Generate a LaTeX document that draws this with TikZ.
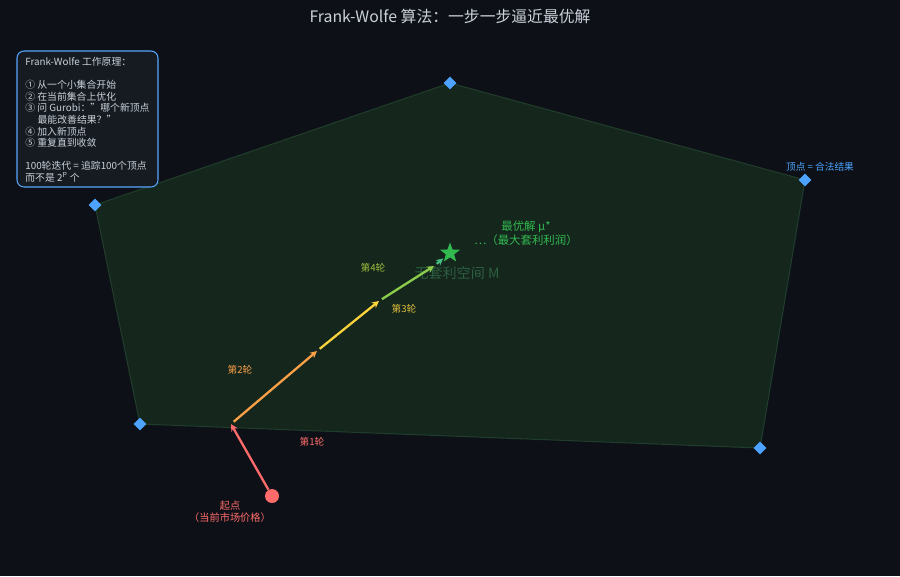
\documentclass[tikz,border=0pt]{standalone}
\usepackage{fontspec}
\setmainfont{Noto Sans CJK SC}
\usetikzlibrary{arrows.meta,shapes.geometric,positioning}
\definecolor{bgdark}{RGB}{13,17,23}
\definecolor{regionfill}{RGB}{21,38,29}
\definecolor{regionedge}{RGB}{32,60,42}
\definecolor{vertexblue}{RGB}{77,163,255}
\definecolor{titlegray}{RGB}{201,209,217}
\definecolor{boxfill}{RGB}{22,27,34}
\definecolor{boxedge}{RGB}{88,166,255}
\definecolor{stepone}{RGB}{255,107,107}
\definecolor{steptwo}{RGB}{250,160,70}
\definecolor{stepthree}{RGB}{250,210,60}
\definecolor{stepfour}{RGB}{140,205,75}
\definecolor{stepfive}{RGB}{70,190,130}
\definecolor{labelfour}{RGB}{160,190,60}
\definecolor{labelthree}{RGB}{225,190,60}
\definecolor{optimum}{RGB}{50,185,80}
\definecolor{spacelabel}{RGB}{45,95,65}

\begin{document}
\begin{tikzpicture}[x=0.02cm,y=-0.02cm,
    vertex/.style={diamond,fill=vertexblue,minimum size=0.26cm,inner sep=0pt},
    steparrow/.style={line width=1.3pt,-{Stealth[length=4pt,width=4pt]},shorten <=2pt},
    steplabel/.style={font=\fontsize{5.5}{6.5}\selectfont}]

% Background
\fill[bgdark] (0,0) rectangle (900,576);
\useasboundingbox (0,0) rectangle (900,576);

% Title
\node[titlegray,font=\fontsize{9}{11}\selectfont] (title) at (450,16) {Frank-Wolfe 算法：一步一步逼近最优解};

% Feasible region
\fill[regionfill,draw=regionedge,line width=0.6pt] (450,83) -- (805,180) -- (760,448) -- (140,424) -- (95,205) -- cycle;
\node[spacelabel,font=\fontsize{8}{9}\selectfont] (space) at (457,273) {无套利空间 M};

% Vertices
\node[vertex] (v1) at (450,83) {};
\node[vertex] (v2) at (805,180) {};
\node[vertex] (v3) at (760,448) {};
\node[vertex] (v4) at (140,424) {};
\node[vertex] (v5) at (95,205) {};
\node[vertexblue,font=\fontsize{5.5}{6.5}\selectfont] (vlabel) at (820,167) {顶点 = 合法结果};

% Iteration path
\node[circle,fill=stepone,minimum size=0.28cm,inner sep=0pt] (p0) at (272,496) {};
\coordinate (p1) at (231,424);
\coordinate (p2) at (317,351);
\coordinate (p3) at (379,301);
\coordinate (p4) at (434,266);
\node[star,star points=5,star point ratio=2.4,fill=optimum,minimum size=0.42cm,inner sep=0pt] (opt) at (450,253) {};

\draw[steparrow,stepone,shorten <=0pt] (p0) -- (p1);
\draw[steparrow,steptwo] (p1) -- (p2);
\draw[steparrow,stepthree] (p2) -- (p3);
\draw[steparrow,stepfour] (p3) -- (p4);
\draw[steparrow,stepfive,shorten >=1pt] (p4) -- (opt);

% Step labels
\node[steplabel,stepone] (s1) at (312,442) {第1轮};
\node[steplabel,steptwo] (s2) at (240,370) {第2轮};
\node[steplabel,labelthree] (s3) at (404,309) {第3轮};
\node[steplabel,labelfour] (s4) at (373,268) {第4轮};

% Start and optimum labels
\node[stepone,align=center,font=\fontsize{5.8}{7}\selectfont] (start) at (230,512) {起点\\（当前市场价格）};
\node[optimum,align=center,font=\fontsize{6.5}{8}\selectfont] (optlabel) at (526,233) {最优解 μ*\\…（最大套利利润）};

% Explanation box
\draw[draw=boxedge,fill=boxfill,rounded corners=4pt,line width=0.6pt] (17,51) rectangle (158,187);
\node[anchor=north west,align=left,inner sep=0pt,
      text=titlegray,font=\fontsize{5.6}{6.6}\selectfont] (howto) at (25,57) {
    Frank-Wolfe 工作原理：\\[6.6pt]
    ① 从一个小集合开始\\
    ② 在当前集合上优化\\
    ③ 问 Gurobi：\symbol{34}哪个新顶点\\
    \hspace*{7pt}最能改善结果？\symbol{34}\\
    ④ 加入新顶点\\
    ⑤ 重复直到收敛\\[6.6pt]
    100轮迭代 = 追踪100个顶点\\
    而不是 2\textsuperscript{P} 个
};

\end{tikzpicture}
\end{document}
